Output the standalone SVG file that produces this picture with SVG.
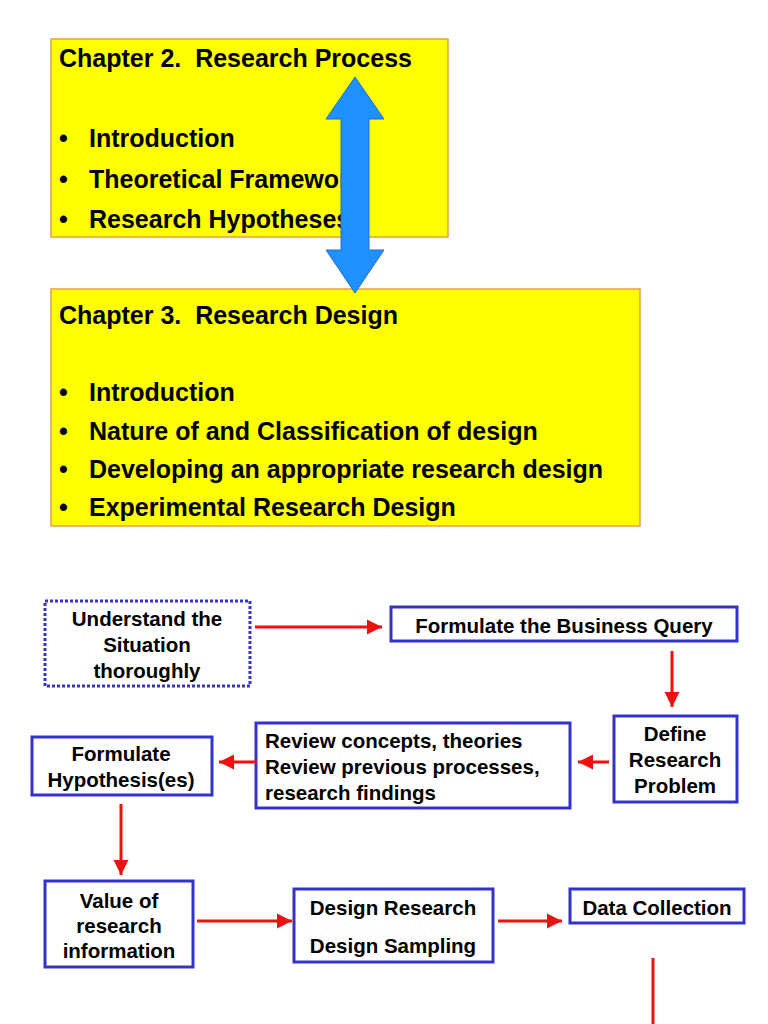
<svg xmlns="http://www.w3.org/2000/svg" width="768" height="1024" viewBox="0 0 768 1024">
<style>
.ch{fill:#ffff00;stroke:#e8a040;stroke-width:1.5}
.ct{font-family:"Liberation Sans",Arial,sans-serif;font-size:25px;font-weight:bold;fill:#000}
.n{fill:#fff;stroke:#3333cc;stroke-width:3}
.t{font-family:"Liberation Sans",Arial,sans-serif;font-size:20.5px;font-weight:bold;fill:#000;text-anchor:middle}
.l{text-anchor:start}
.c{stroke:#ee1111;stroke-width:3;fill:none}
</style>
<defs>
<marker id="ah" markerWidth="6" markerHeight="6" refX="5" refY="3" orient="auto" markerUnits="strokeWidth"><path d="M0,0.5 L5,3 L0,5.5 Z" fill="#ee1111"/></marker>
</defs>
<rect width="768" height="1024" fill="#fff"/>
<g id="chapter2">
<rect class="ch" x="51" y="39" width="397" height="198"/>
<text class="ct" x="59" y="67" xml:space="preserve">Chapter 2.  Research Process</text>
<text class="ct" x="59" y="147">•</text><text class="ct" x="89" y="147">Introduction</text>
<text class="ct" x="59" y="188">•</text><text class="ct" x="89" y="188">Theoretical Framework</text>
<text class="ct" x="59" y="228">•</text><text class="ct" x="89" y="228">Research Hypotheses</text>
</g>
<g id="chapter3">
<rect class="ch" x="51" y="289" width="589" height="237"/>
<text class="ct" x="59" y="324" xml:space="preserve">Chapter 3.  Research Design</text>
<text class="ct" x="59" y="401">•</text><text class="ct" x="89" y="401">Introduction</text>
<text class="ct" x="59" y="440">•</text><text class="ct" x="89" y="440">Nature of and Classification of design</text>
<text class="ct" x="59" y="478">•</text><text class="ct" x="89" y="478">Developing an appropriate research design</text>
<text class="ct" x="59" y="516">•</text><text class="ct" x="89" y="516">Experimental Research Design</text>
</g>
<g id="bigarrow">
<path d="M355,77 L384,119 L369,119 L369,250 L384,250 L355,293 L326,250 L341,250 L341,119 L326,119 Z" fill="#1e90ff" stroke="#1f6fcf" stroke-width="1"/>
</g>
<g id="n1"><rect class="n" x="45" y="601" width="205" height="85" stroke-dasharray="3,2" stroke-width="2.5"/>
<text class="t" x="147" y="626">Understand the</text><text class="t" x="147" y="652">Situation</text><text class="t" x="147" y="678">thoroughly</text></g>
<g id="n2"><rect class="n" x="391" y="607" width="346" height="34"/>
<text class="t" x="564" y="633">Formulate the Business Query</text></g>
<g id="n3"><rect class="n" x="614" y="716" width="123" height="86"/>
<text class="t" x="675" y="741">Define</text><text class="t" x="675" y="767">Research</text><text class="t" x="675" y="793">Problem</text></g>
<g id="n4"><rect class="n" x="256" y="723" width="314" height="85"/>
<text class="t l" x="265" y="748">Review concepts, theories</text><text class="t l" x="265" y="774">Review previous processes,</text><text class="t l" x="265" y="800">research findings</text></g>
<g id="n5"><rect class="n" x="32" y="737" width="180" height="58"/>
<text class="t" x="121" y="761">Formulate</text><text class="t" x="121" y="787">Hypothesis(es)</text></g>
<g id="n6"><rect class="n" x="45" y="881" width="148" height="86"/>
<text class="t" x="119" y="908">Value of</text><text class="t" x="119" y="933">research</text><text class="t" x="119" y="958">information</text></g>
<g id="n7"><rect class="n" x="294" y="889" width="199" height="73"/>
<text class="t" x="393" y="915">Design Research</text><text class="t" x="393" y="953">Design Sampling</text></g>
<g id="n8"><rect class="n" x="570" y="889" width="174" height="34"/>
<text class="t" x="657" y="915">Data Collection</text></g>
<g id="connectors">
<line class="c" x1="255" y1="627" x2="382" y2="627" marker-end="url(#ah)"/>
<line class="c" x1="672" y1="651" x2="672" y2="707" marker-end="url(#ah)"/>
<line class="c" x1="609" y1="762" x2="578" y2="762" marker-end="url(#ah)"/>
<line class="c" x1="257" y1="762" x2="219" y2="762" marker-end="url(#ah)"/>
<line class="c" x1="121" y1="804" x2="121" y2="875" marker-end="url(#ah)"/>
<line class="c" x1="197" y1="921" x2="292" y2="921" stroke-width="4" marker-end="url(#ah)"/>
<line class="c" x1="498" y1="921" x2="562" y2="921" stroke-width="4" marker-end="url(#ah)"/>
<line class="c" x1="653" y1="958" x2="653" y2="1024" stroke-width="4"/>
</g>
</svg>
